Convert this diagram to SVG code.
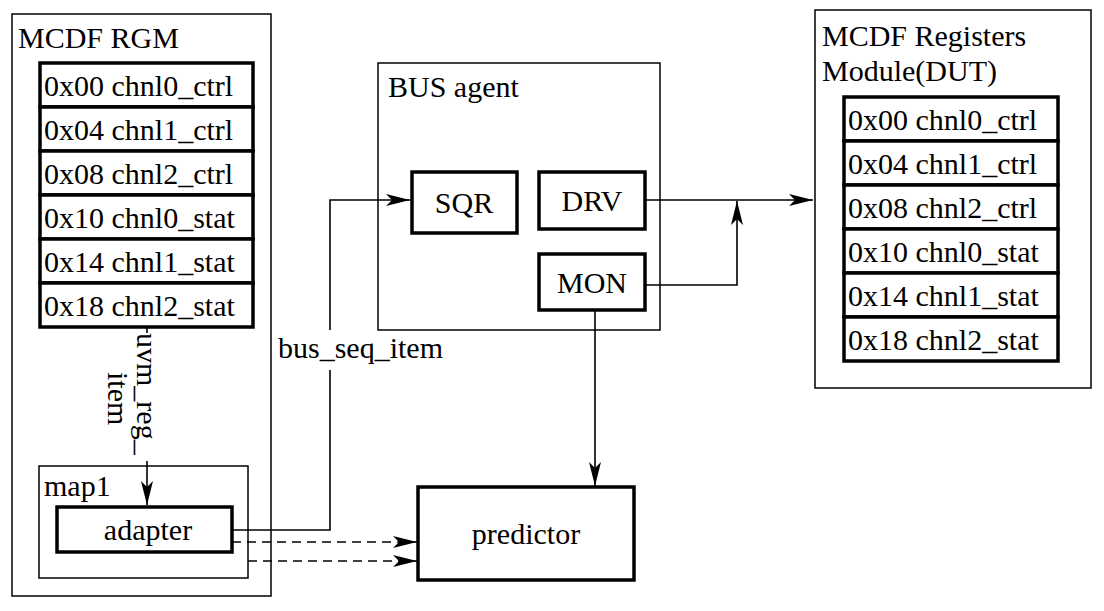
<svg xmlns="http://www.w3.org/2000/svg" width="1104" height="611" viewBox="0 0 1104 611">
<defs>
<style>
text{font-family:"Liberation Serif","DejaVu Serif",serif;font-size:30px;fill:#000}
.thin{fill:#fff;stroke:#000;stroke-width:1.5}
.thick{fill:#fff;stroke:#000;stroke-width:3.5}
.ln{fill:none;stroke:#000;stroke-width:1.6}
.dash{fill:none;stroke:#000;stroke-width:1.6;stroke-dasharray:9,6}
</style>
<marker id="ah" viewBox="0 0 24 12" refX="24" refY="6" markerWidth="24" markerHeight="12" markerUnits="userSpaceOnUse" orient="auto"><path d="M0,0 L24,6 L0,12 L6,6 Z" fill="#000"/></marker>
</defs>
<rect width="1104" height="611" fill="#fff"/>
<g id="rgm">
<rect class="thin" x="12" y="14" width="259" height="582"/>
<text x="18" y="48" font-family="Liberation Serif, serif">MCDF RGM</text>
<g id="rgm-regs">
<rect class="thick" x="40" y="63" width="213" height="44"/><text x="44" y="96">0x00 chnl0_ctrl</text>
<rect class="thick" x="40" y="107" width="213" height="44"/><text x="44" y="140">0x04 chnl1_ctrl</text>
<rect class="thick" x="40" y="151" width="213" height="44"/><text x="44" y="184">0x08 chnl2_ctrl</text>
<rect class="thick" x="40" y="195" width="213" height="44"/><text x="44" y="228">0x10 chnl0_stat</text>
<rect class="thick" x="40" y="239" width="213" height="44"/><text x="44" y="272">0x14 chnl1_stat</text>
<rect class="thick" x="40" y="283" width="213" height="44"/><text x="44" y="316">0x18 chnl2_stat</text>
</g>
</g>
<g id="map1">
<rect class="thin" x="39" y="466" width="209" height="112"/>
<text x="44" y="496">map1</text>
</g>
<g id="adapter">
<rect class="thick" x="57" y="507" width="175" height="45"/>
<text x="148" y="540" text-anchor="middle">adapter</text>
</g>
<g id="busagent">
<rect class="thin" x="378" y="63" width="282" height="267"/>
<text x="388" y="97">BUS agent</text>
</g>
<g id="sqr"><rect class="thick" x="412" y="172" width="105" height="61"/><text x="464" y="213" text-anchor="middle">SQR</text></g>
<g id="drv"><rect class="thick" x="539" y="172" width="106" height="57"/><text x="592" y="211" text-anchor="middle">DRV</text></g>
<g id="mon"><rect class="thick" x="539" y="254" width="106" height="56"/><text x="592" y="293" text-anchor="middle">MON</text></g>
<g id="predictor"><rect class="thick" x="418" y="487" width="216" height="93"/><text x="526" y="544" text-anchor="middle">predictor</text></g>
<g id="dut">
<rect class="thin" x="815" y="10" width="276" height="378"/>
<text x="822" y="46">MCDF Registers</text>
<text x="822" y="81">Module(DUT)</text>
<rect class="thick" x="844" y="97" width="214" height="44"/><text x="848" y="130">0x00 chnl0_ctrl</text>
<rect class="thick" x="844" y="141" width="214" height="44"/><text x="848" y="174">0x04 chnl1_ctrl</text>
<rect class="thick" x="844" y="185" width="214" height="44"/><text x="848" y="218">0x08 chnl2_ctrl</text>
<rect class="thick" x="844" y="229" width="214" height="44"/><text x="848" y="262">0x10 chnl0_stat</text>
<rect class="thick" x="844" y="273" width="214" height="44"/><text x="848" y="306">0x14 chnl1_stat</text>
<rect class="thick" x="844" y="317" width="214" height="44"/><text x="848" y="350">0x18 chnl2_stat</text>
</g>
<g id="connectors">
<path class="ln" d="M147,327 V505" marker-end="url(#ah)"/>
<rect x="136" y="333" width="22" height="128" fill="#fff"/>
<text transform="translate(137,333) rotate(90)">uvm_reg_</text>
<text transform="translate(108,372) rotate(90)">item</text>
<path class="ln" d="M232,530 H330 V370"/>
<path class="ln" d="M330,330 V200 H410" marker-end="url(#ah)"/>
<text x="278" y="358">bus_seq_item</text>
<path class="ln" d="M645,200 H813" marker-end="url(#ah)"/>
<path class="ln" d="M645,285 H737 V201" marker-end="url(#ah)"/>
<path class="ln" d="M595,310 V486" marker-end="url(#ah)"/>
<path class="dash" d="M232,542 H417" marker-end="url(#ah)"/>
<path class="dash" d="M248,561 H417" marker-end="url(#ah)"/>
</g>
</svg>
